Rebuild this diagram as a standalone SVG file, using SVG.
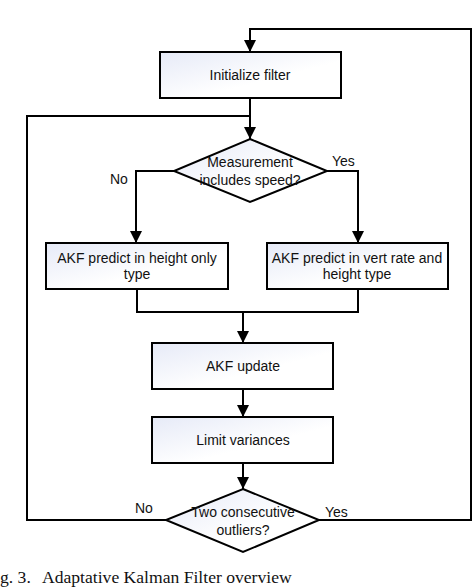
<svg xmlns="http://www.w3.org/2000/svg" width="474" height="588" viewBox="0 0 474 588">
<defs>
<linearGradient id="g" x1="0" y1="0" x2="1" y2="1">
<stop offset="0" stop-color="#e6eaf7"/>
<stop offset="0.6" stop-color="#ffffff"/>
</linearGradient>
<marker id="ah" viewBox="0 0 12 12" refX="12" refY="6" markerWidth="12" markerHeight="12" markerUnits="userSpaceOnUse" orient="auto">
<path d="M0,0 L12,6 L0,12 z" fill="#000"/>
</marker>
<style>
.box{fill:url(#g);stroke:#000;stroke-width:2}
.t{font-family:"Liberation Sans",Arial,sans-serif;font-size:14px;fill:#111;text-anchor:middle}
.lab{font-family:"Liberation Sans",Arial,sans-serif;font-size:14px;fill:#111}
.c{fill:none;stroke:#000;stroke-width:2}
.cap{font-family:"Liberation Serif","Times New Roman",serif;font-size:17.6px;fill:#111}
</style>
</defs>
<rect width="474" height="588" fill="#fff"/>
<g id="connectors">
<path class="c" d="M250,98 V116"/>
<path class="c" d="M250,116 V139" marker-end="url(#ah)"/>
<path class="c" d="M174,171 H136 V243" marker-end="url(#ah)"/>
<path class="c" d="M327,171 H358 V243" marker-end="url(#ah)"/>
<path class="c" d="M137,289 V312 H358 V289"/>
<path class="c" d="M243,312 V343" marker-end="url(#ah)"/>
<path class="c" d="M243,389 V417" marker-end="url(#ah)"/>
<path class="c" d="M243,463 V489" marker-end="url(#ah)"/>
<path class="c" d="M166,520 H27 V116 H250"/>
<path class="c" d="M319,520 H471 V29 H250 V52" marker-end="url(#ah)"/>
</g>
<g id="init">
<rect class="box" x="160" y="52" width="181" height="46"/>
<text class="t" x="250" y="80">Initialize filter</text>
</g>
<g id="decision1">
<polygon class="box" points="250,139 327,171 250,202 174,171"/>
<text class="t" x="250" y="167">Measurement</text>
<text class="t" x="250" y="185">includes speed?</text>
</g>
<g id="predict-height">
<rect class="box" x="46" y="243" width="182" height="46"/>
<text class="t" x="137" y="263">AKF predict in height only</text>
<text class="t" x="137" y="279">type</text>
</g>
<g id="predict-vert">
<rect class="box" x="267" y="243" width="181" height="46"/>
<text class="t" x="357" y="263">AKF predict in vert rate and</text>
<text class="t" x="357" y="279">height type</text>
</g>
<g id="update">
<rect class="box" x="152" y="343" width="181" height="46"/>
<text class="t" x="243" y="371">AKF update</text>
</g>
<g id="limit">
<rect class="box" x="152" y="417" width="181" height="46"/>
<text class="t" x="243" y="445">Limit variances</text>
</g>
<g id="decision2">
<polygon class="box" points="243,489 319,520 243,552 166,520"/>
<text class="t" x="243" y="517">Two consecutive</text>
<text class="t" x="243" y="535">outliers?</text>
</g>
<g id="labels">
<text class="lab" x="110" y="184">No</text>
<text class="lab" x="332" y="166">Yes</text>
<text class="lab" x="135" y="513">No</text>
<text class="lab" x="325" y="517">Yes</text>
</g>
<g id="caption">
<text class="cap" x="0" y="583">g. 3.</text>
<text class="cap" x="42" y="583">Adaptative Kalman Filter overview</text>
</g>
</svg>
